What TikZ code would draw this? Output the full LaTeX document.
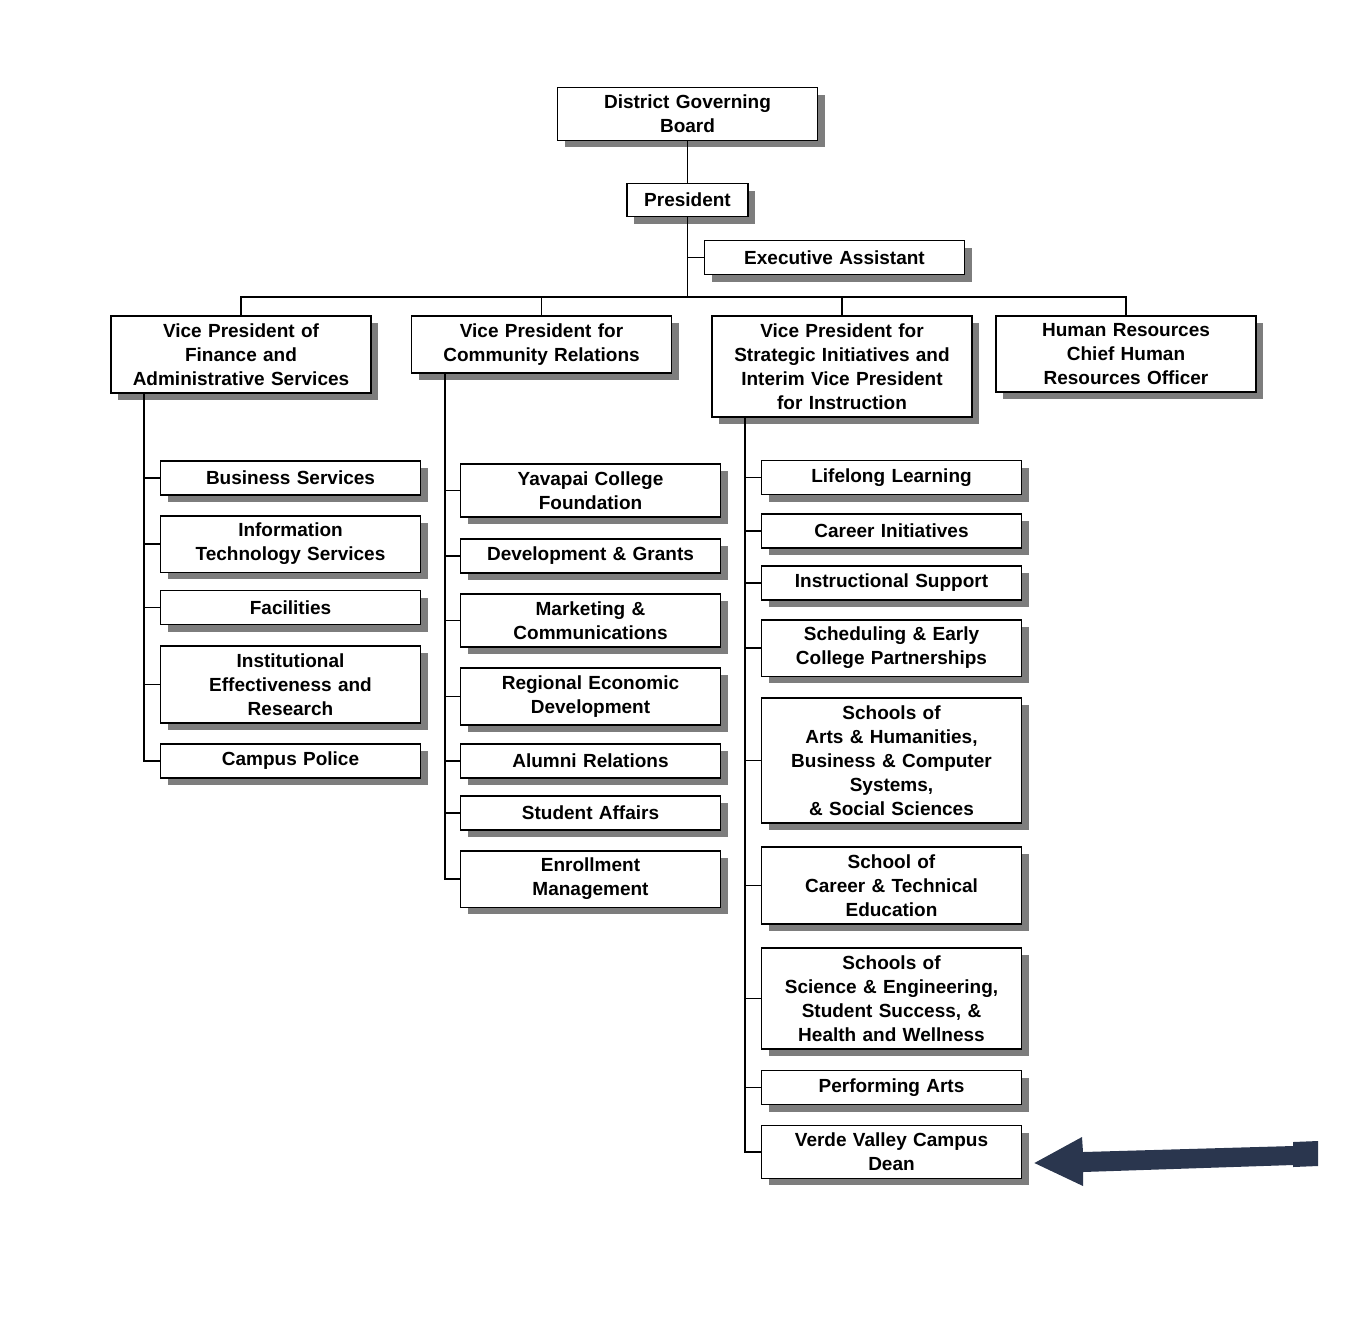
\documentclass[tikz,border=0pt]{standalone}
\usepackage{fontspec}
\setmainfont{Liberation Sans}
\usetikzlibrary{shadows}
\definecolor{ycnavy}{RGB}{42,54,78}
\definecolor{ycshade}{RGB}{125,125,125}

\begin{document}
\begin{tikzpicture}[x=1pt,y=-1pt,line width=1.8pt,
  orgbox/.style={draw,fill=white,align=center,text width=244pt,minimum width=260pt,
    minimum height=34pt,inner xsep=8pt,inner ysep=7.5pt,font=\fontsize{19}{24}\selectfont\bfseries,
    drop shadow={shadow xshift=7pt,shadow yshift=-7pt,fill=ycshade,opacity=1}},
  smallbox/.style={orgbox,text width=,minimum width=121pt,minimum height=33pt,inner xsep=4pt}]
  \useasboundingbox (0,0) rectangle (1367,1318);
  % top of the chart
  \node[orgbox] (dgb) at (687.5,114) {District Governing\\Board};
  \node[smallbox] (pres) at (687.5,200) {President};
  \node[orgbox] (exec) at (834.5,257.5) {Executive Assistant};
  \coordinate (bus) at (687.5,297);
  \node[orgbox,anchor=north] (vpfin) at (241,315) {Vice President of\\Finance and\\Administrative Services};
  \node[orgbox,anchor=north] (vpcom) at (541.5,315) {Vice President for\\Community Relations};
  \node[orgbox,anchor=north] (vpstr) at (842,315) {Vice President for\\Strategic Initiatives and\\Interim Vice President\\for Instruction};
  \node[orgbox,anchor=north] (hr) at (1126,315) {Human Resources\\Chief Human\\Resources Officer};
  % finance
  \node[orgbox] (fin1) at (290.5,478) {Business Services};
  \node[orgbox] (fin2) at (290.5,544) {Information\\Technology Services};
  \node[orgbox] (fin3) at (290.5,607.5) {Facilities};
  \node[orgbox] (fin4) at (290.5,684.5) {Institutional\\Effectiveness and\\Research};
  \node[orgbox] (fin5) at (290.5,761) {Campus Police};
  % community relations
  \node[orgbox] (com1) at (590.5,490.5) {Yavapai College\\Foundation};
  \node[orgbox] (com2) at (590.5,556) {Development \& Grants};
  \node[orgbox] (com3) at (590.5,620.5) {Marketing \&\\Communications};
  \node[orgbox] (com4) at (590.5,696.5) {Regional Economic\\Development};
  \node[orgbox] (com5) at (590.5,761) {Alumni Relations};
  \node[orgbox] (com6) at (590.5,813) {Student Affairs};
  \node[orgbox] (com7) at (590.5,879) {Enrollment\\Management};
  % strategic initiatives
  \node[orgbox] (str1) at (891.5,477.5) {Lifelong Learning};
  \node[orgbox] (str2) at (891.5,531) {Career Initiatives};
  \node[orgbox] (str3) at (891.5,583) {Instructional Support};
  \node[orgbox] (str4) at (891.5,648) {Scheduling \& Early\\College Partnerships};
  \node[orgbox] (str5) at (891.5,760.5) {Schools of\\Arts \& Humanities,\\Business \& Computer\\Systems,\\\& Social Sciences};
  \node[orgbox] (str6) at (891.5,885.5) {School of\\Career \& Technical\\Education};
  \node[orgbox] (str7) at (891.5,998.5) {Schools of\\Science \& Engineering,\\Student Success, \&\\Health and Wellness};
  \node[orgbox] (str8) at (891.5,1087.5) {Performing Arts};
  \node[orgbox] (str9) at (891.5,1152) {Verde Valley Campus\\Dean};
  % connectors
  \draw (dgb.south) -- (pres.north);
  \draw (pres.south) -- (bus);
  \draw (exec.west) -- (exec.west -| bus);
  \draw (vpfin.north) |- (hr.north |- bus) -- (hr.north);
  \draw (vpcom.north) -- (vpcom.north |- bus);
  \draw (vpstr.north) -- (vpstr.north |- bus);
  \coordinate (finspine) at ([xshift=34pt]vpfin.south west);
  \coordinate (comspine) at ([xshift=34pt]vpcom.south west);
  \coordinate (strspine) at ([xshift=34pt]vpstr.south west);
  \draw (finspine) |- (fin5.west);
  \foreach \i in {1,...,4} \draw (fin\i.west) -- (fin\i.west -| finspine);
  \draw (comspine) |- (com7.west);
  \foreach \i in {1,...,6} \draw (com\i.west) -- (com\i.west -| comspine);
  \draw (strspine) |- (str9.west);
  \foreach \i in {1,...,8} \draw (str\i.west) -- (str\i.west -| strspine);
  % pointer arrow
  \fill[ycnavy] ([xshift=12pt,yshift=-11pt]str9.east) -- (1082,1137) -- (1083,1152) -- (1293,1146)
    -- (1293,1142) -- (1318,1141) -- (1318,1166) -- (1293,1167) -- (1293,1165)
    -- (1083,1172) -- (1083,1186) -- cycle;
\end{tikzpicture}
\end{document}
